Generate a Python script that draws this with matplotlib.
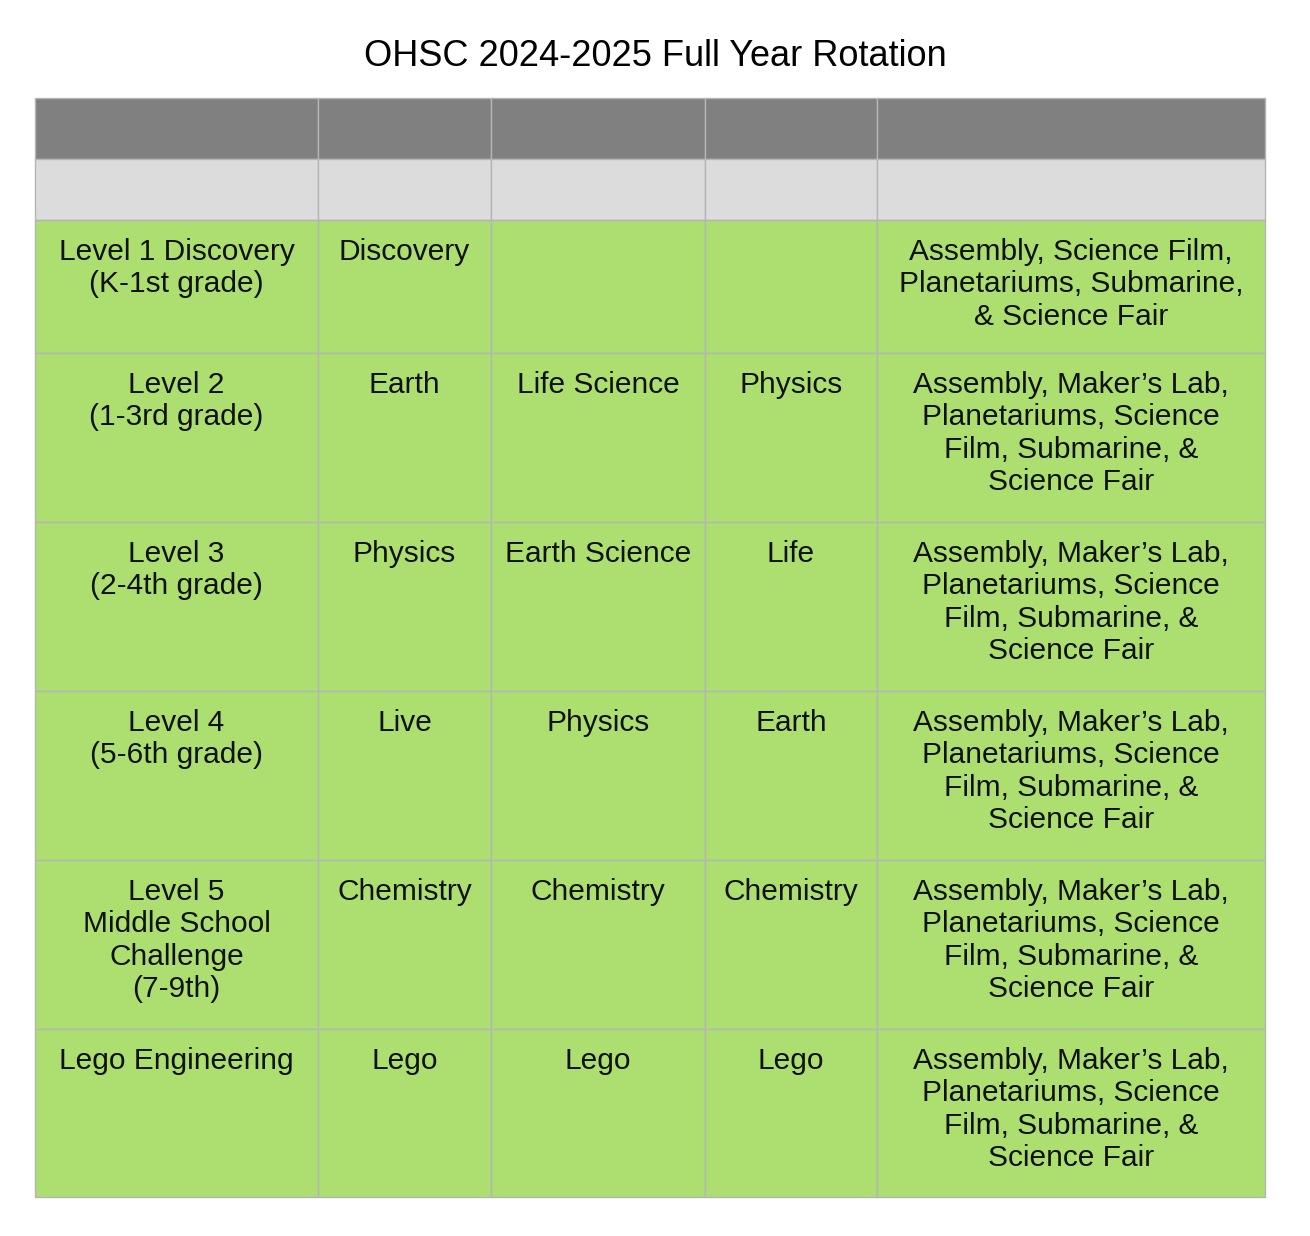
import matplotlib.pyplot as plt
from matplotlib.patches import Rectangle

plt.rcParams['font.family'] = ['Liberation Sans', 'DejaVu Sans']

title = "OHSC 2024-2025 Full Year Rotation"
levels = ["Level 1 Discovery\n(K-1st grade)", "Level 2\n(1-3rd grade)", "Level 3\n(2-4th grade)",
          "Level 4\n(5-6th grade)", "Level 5\nMiddle School\nChallenge\n(7-9th)", "Lego Engineering"]
rot1 = ["Discovery", "Earth", "Physics", "Live", "Chemistry", "Lego"]
rot2 = ["", "Life Science", "Earth Science", "Physics", "Chemistry", "Lego"]
rot3 = ["", "Physics", "Life", "Earth", "Chemistry", "Lego"]
extra1 = "Assembly, Science Film,\nPlanetariums, Submarine,\n& Science Fair"
extra = "Assembly, Maker\u2019s Lab,\nPlanetariums, Science\nFilm, Submarine, &\nScience Fair"
extras = [extra1] + [extra] * 5

# layout in pixels
col_x = [35, 318, 491, 705, 877, 1265]
row_y = [98, 159, 220, 353, 522, 691, 860, 1029, 1197]
W, H = 1310, 1236

fig = plt.figure(figsize=(13.1, 12.36), dpi=100)
ax = fig.add_axes([0, 0, 1, 1])
ax.set_xlim(0, W)
ax.set_ylim(H, 0)
ax.axis('off')

ax.text(W / 2, 56, title, ha='center', va='center', fontsize=26)

fills = ['#808080', '#dcdcdc'] + ['#acdf6f'] * 6
for r in range(len(row_y) - 1):
    for c in range(len(col_x) - 1):
        ax.add_patch(Rectangle((col_x[c], row_y[r]), col_x[c + 1] - col_x[c],
                               row_y[r + 1] - row_y[r], facecolor=fills[r],
                               edgecolor='#b5b5b5', linewidth=1))

for i in range(len(levels)):
    row = [levels[i], rot1[i], rot2[i], rot3[i], extras[i]]
    top = row_y[i + 2] + 18
    for c, txt in enumerate(row):
        ax.text((col_x[c] + col_x[c + 1]) / 2, top, txt, ha='center', va='top',
                fontsize=21.5, linespacing=1.2, color='#111111')

fig.savefig('out.png', dpi=100)
